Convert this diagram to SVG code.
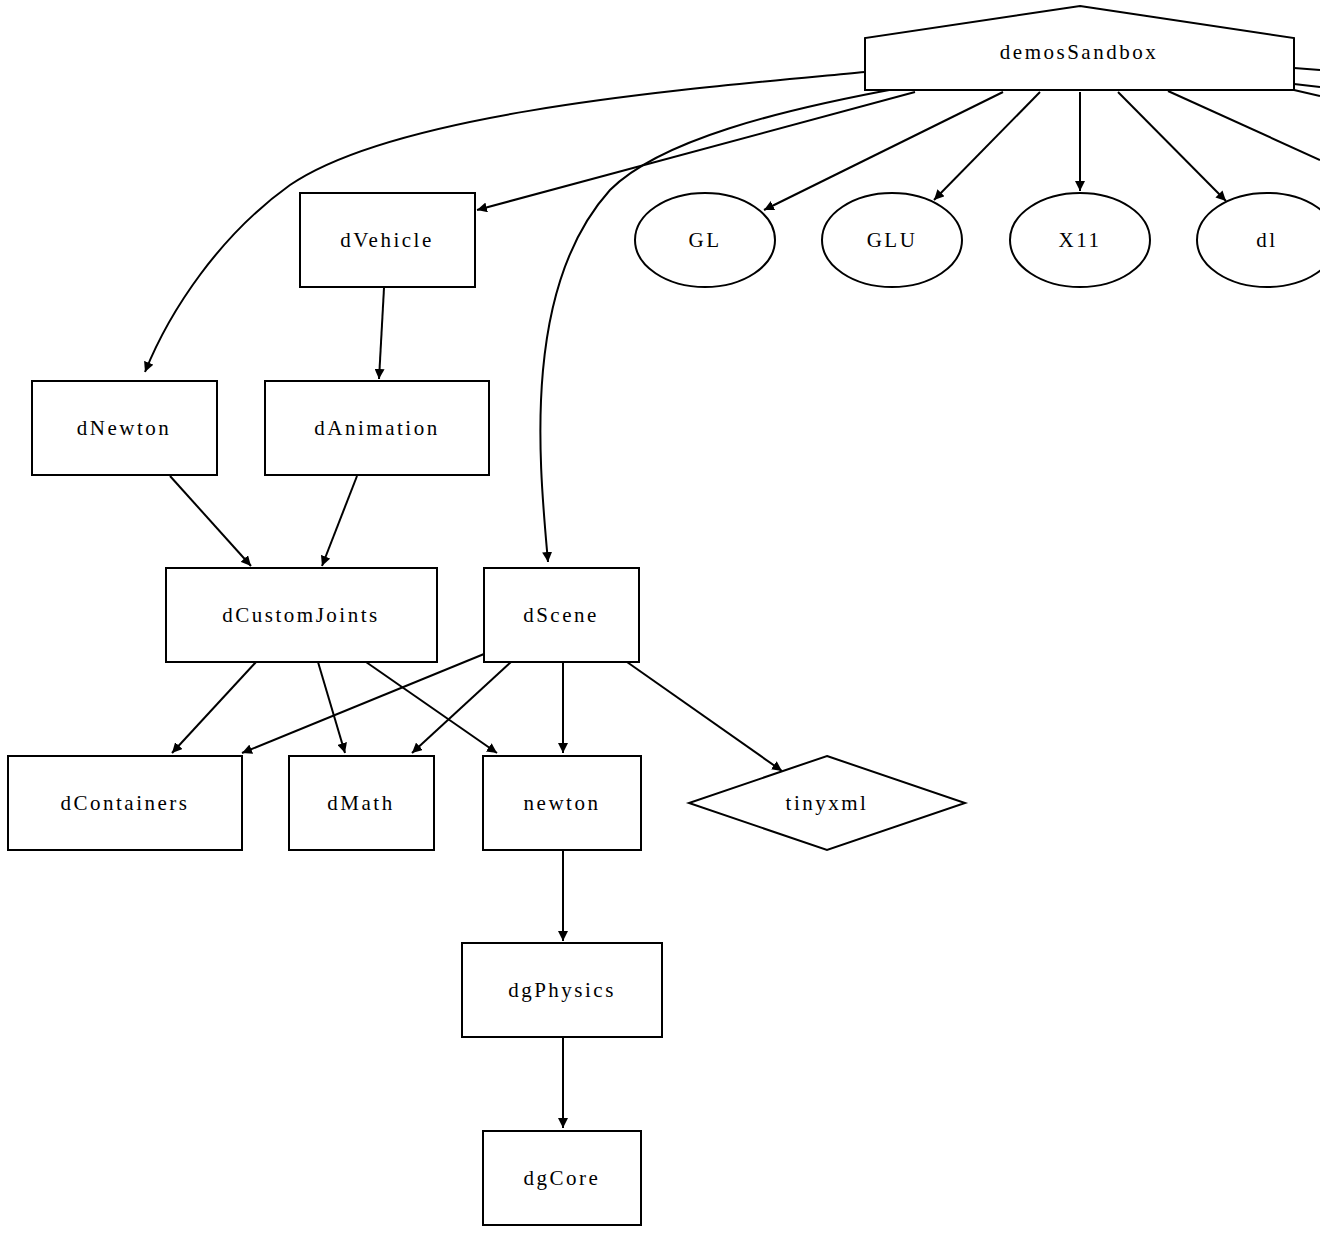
<svg xmlns="http://www.w3.org/2000/svg" width="1320" height="1233" viewBox="0 0 1320 1233">
<style>
.n{fill:#fff;stroke:#000;stroke-width:2}
text{font-family:"Liberation Serif",serif;font-size:21px;letter-spacing:2.5px;text-anchor:middle;dominant-baseline:central}
.e{fill:none;stroke:#000;stroke-width:2}
</style>
<defs><marker id="a" viewBox="0 0 10 10" refX="10" refY="5" markerWidth="10" markerHeight="10" markerUnits="userSpaceOnUse" orient="auto"><path d="M0,0L10,5L0,10z"/></marker></defs>
<rect width="1320" height="1233" fill="#fff"/>
<g id="edges">
<path class="e" d="M865,72C700,88 400,110 290,185C220,235 170,310 145,372" marker-end="url(#a)" style="marker-end:url(#a)"/>
<path class="e" d="M915,92L477,210" marker-end="url(#a)" style="stroke-width:2"/>
<path class="e" d="M900,88C780,110 660,140 610,190C520,290 540,470 548,562" marker-end="url(#a)"/>
<path class="e" d="M1003,92L764,210" marker-end="url(#a)"/>
<path class="e" d="M1040,92L934,200" marker-end="url(#a)"/>
<path class="e" d="M1080,92L1080,191" marker-end="url(#a)"/>
<path class="e" d="M1118,92L1226,201" marker-end="url(#a)"/>
<path class="e" d="M1168,91L1320,160"/>
<path class="e" d="M1294,68L1320,70"/>
<path class="e" d="M1294,84L1320,87"/>
<path class="e" d="M1294,90L1320,96"/>
<path class="e" d="M384,288L379,379" marker-end="url(#a)"/>
<path class="e" d="M170,476L251,566" marker-end="url(#a)"/>
<path class="e" d="M357,476L322,566" marker-end="url(#a)"/>
<path class="e" d="M256,662L172,753" marker-end="url(#a)"/>
<path class="e" d="M318,662L345,753" marker-end="url(#a)"/>
<path class="e" d="M366,662L497,753" marker-end="url(#a)"/>
<path class="e" d="M484,654L242,753" marker-end="url(#a)"/>
<path class="e" d="M511,662L412,753" marker-end="url(#a)"/>
<path class="e" d="M563,662L563,753" marker-end="url(#a)"/>
<path class="e" d="M627,662L782,771" marker-end="url(#a)"/>
<path class="e" d="M563,850L563,941" marker-end="url(#a)"/>
<path class="e" d="M563,1038L563,1128" marker-end="url(#a)"/>
</g>
<g id="demosSandbox"><path class="n" d="M1080,6L1294,38L1294,90L865,90L865,38Z"/><text x="1079" y="52">demosSandbox</text></g>
<g id="dVehicle"><rect class="n" x="300" y="193" width="175" height="94"/><text x="387" y="240">dVehicle</text></g>
<g id="GL"><ellipse class="n" cx="705" cy="240" rx="70" ry="47"/><text x="705" y="240">GL</text></g>
<g id="GLU"><ellipse class="n" cx="892" cy="240" rx="70" ry="47"/><text x="892" y="240">GLU</text></g>
<g id="X11"><ellipse class="n" cx="1080" cy="240" rx="70" ry="47"/><text x="1080" y="240">X11</text></g>
<g id="dl"><ellipse class="n" cx="1267" cy="240" rx="70" ry="47"/><text x="1267" y="240">dl</text></g>
<g id="dNewton"><rect class="n" x="32" y="381" width="185" height="94"/><text x="124" y="428">dNewton</text></g>
<g id="dAnimation"><rect class="n" x="265" y="381" width="224" height="94"/><text x="377" y="428">dAnimation</text></g>
<g id="dCustomJoints"><rect class="n" x="166" y="568" width="271" height="94"/><text x="301" y="615">dCustomJoints</text></g>
<g id="dScene"><rect class="n" x="484" y="568" width="155" height="94"/><text x="561" y="615">dScene</text></g>
<g id="dContainers"><rect class="n" x="8" y="756" width="234" height="94"/><text x="125" y="803">dContainers</text></g>
<g id="dMath"><rect class="n" x="289" y="756" width="145" height="94"/><text x="361" y="803">dMath</text></g>
<g id="newton"><rect class="n" x="483" y="756" width="158" height="94"/><text x="562" y="803">newton</text></g>
<g id="tinyxml"><path class="n" d="M827,756L965,803L827,850L689,803Z"/><text x="827" y="803">tinyxml</text></g>
<g id="dgPhysics"><rect class="n" x="462" y="943" width="200" height="94"/><text x="562" y="990">dgPhysics</text></g>
<g id="dgCore"><rect class="n" x="483" y="1131" width="158" height="94"/><text x="562" y="1178">dgCore</text></g>
</svg>
